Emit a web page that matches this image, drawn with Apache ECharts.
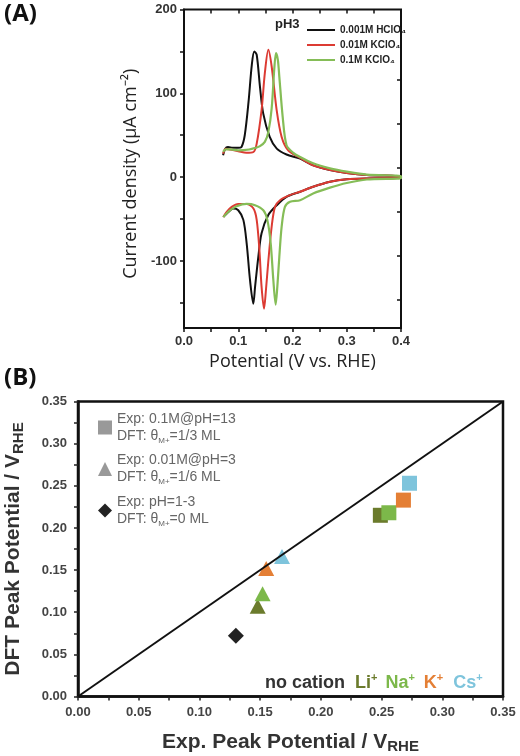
<!DOCTYPE html>
<html>
<head>
<meta charset="utf-8">
<script src="https://cdn.jsdelivr.net/npm/echarts@6/dist/echarts.min.js"></script>
<style>
  html, body { margin: 0; padding: 0; background: #fff; }
  #chart { width: 520px; height: 756px; }
</style>
</head>
<body>
<div id="chart"></div>
<script>
// ---- panel A : CV curves, [potential V, current uA/cm2] ----
const hclo4Up = [[0.072,26],[0.076,34],[0.081,36],[0.09,35],[0.1,35],[0.106,36],[0.112,50],[0.119,90],[0.125,134],[0.1296,150],[0.134,146],[0.14,108],[0.146,76],[0.158,48],[0.171,34],[0.189,27],[0.214,22],[0.238,14],[0.269,8.5],[0.3,5],[0.337,2.5],[0.4,1]];
const hclo4Down = [[0.4,-1],[0.337,-1.5],[0.3,-2.5],[0.269,-5.5],[0.238,-11.5],[0.214,-17.5],[0.189,-23.5],[0.171,-33.5],[0.1556,-45],[0.143,-67],[0.137,-95],[0.131,-131],[0.1278,-151],[0.1217,-123],[0.1155,-79],[0.1094,-51],[0.1,-39.5],[0.091,-37.5],[0.0817,-41.5],[0.0725,-47.5]];
const kclo4_001Up = [[0.072,28],[0.077,34],[0.085,33],[0.1,31],[0.115,29],[0.128,30],[0.134,40],[0.143,80],[0.149,124],[0.1555,152],[0.1616,132],[0.1708,80],[0.18,48],[0.192,32],[0.214,23],[0.238,14],[0.269,8.5],[0.3,5],[0.337,2.5],[0.4,1]];
const kclo4_001Down = [[0.4,-1],[0.337,-1.5],[0.3,-2.5],[0.269,-5.5],[0.238,-11.5],[0.214,-17.5],[0.195,-21.5],[0.177,-27.5],[0.1677,-35.5],[0.1616,-59],[0.1556,-99],[0.151,-135],[0.1475,-157],[0.143,-131],[0.139,-87],[0.134,-51],[0.128,-37.5],[0.1155,-32],[0.1,-32],[0.0879,-35.5],[0.0787,-41.5],[0.0725,-47.5]];
const kclo4_01Up = [[0.072,30],[0.077,33],[0.085,33],[0.1,32],[0.12,33],[0.132,35],[0.14,37],[0.149,42],[0.1555,54],[0.1616,82],[0.1665,130],[0.1696,148],[0.173,140],[0.1757,120],[0.1819,72],[0.189,38],[0.2015,29],[0.214,24],[0.238,16.5],[0.269,10.5],[0.3,6.5],[0.337,3],[0.4,1.2]];
const kclo4_01Down = [[0.4,-1.2],[0.337,-2.8],[0.3,-7],[0.269,-12.5],[0.238,-19.5],[0.214,-27.5],[0.1954,-29.5],[0.186,-35.5],[0.18,-59],[0.1757,-95],[0.172,-131],[0.169,-152],[0.1647,-123],[0.1598,-79],[0.1536,-51],[0.1462,-39.5],[0.1309,-33.5],[0.1155,-32],[0.097,-34.7],[0.085,-39.5],[0.0725,-47.5]];

const cvNames = ['0.001M HClO\u2084', '0.01M KClO\u2084', '0.1M KClO\u2084'];
const cvColors = ['#111111', '#dc3b33', '#85bd57'];

const yTicksA = [-150, -100, -50, 0, 50, 100, 150, 200];
const yLabelsA = [-100, 0, 100, 200];
const yTicksRightA = [-150, -100, -50, 0, 50, 100];

// ---- panel B : DFT vs experiment peak potential ----
const cationColors = ['#6b7b2c', '#7cb84a', '#e47f35', '#7ec4dc'];
const expSquare = [0.249, 0.256, 0.268, 0.273];
const dftSquare = [0.215, 0.218, 0.233, 0.253];
const expTriangle = [0.148, 0.152, 0.155, 0.168];
const dftTriangle = [0.107, 0.122, 0.152, 0.166];
const expDiamond = [0.130];
const dftDiamond = [0.072];
const parityLine = [[0, 0], [0.35, 0.35]];

const legendText = {
    sq: '{t|Exp: 0.1M@pH=13}\n{t|DFT: \u03b8}{s|M+}{t|=1/3 ML}',
    tri: '{t|Exp: 0.01M@pH=3}\n{t|DFT: \u03b8}{s|M+}{t|=1/6 ML}',
    dia: '{t|Exp: pH=1-3}\n{t|DFT: \u03b8}{s|M+}{t|=0 ML}'
};

const pts = (xs, ys, colors) => xs.map((x, i) => ({
    value: [x, ys[i]],
    itemStyle: colors ? { color: colors[i] } : undefined
}));

const sans = 'Liberation Sans';
const big = (c, pad) => ({ font: 'bold 18px "Liberation Sans"', fill: c, lineHeight: 22, padding: [0, 0, 0, pad] });
const sup = c => ({ font: 'bold 11px "Liberation Sans"', fill: c, lineHeight: 12, verticalAlign: 'top' });
const nameRich = {
    m: { fontFamily: sans, fontWeight: 'bold', fontSize: 21, color: '#333', lineHeight: 25 },
    s: { fontFamily: sans, fontWeight: 'bold', fontSize: 15, color: '#333', lineHeight: 15, verticalAlign: 'bottom' }
};

const chart = echarts.init(document.getElementById('chart'), null, { renderer: 'canvas' });

const option = {
    animation: false,
    backgroundColor: '#fff',
    grid: [
        { left: 184, top: 9.5, width: 217, height: 318.5, outerBoundsMode: 'none', show: true, borderColor: '#111', borderWidth: 2, backgroundColor: 'transparent' },
        { left: 78, top: 401.5, width: 425, height: 295, outerBoundsMode: 'none', show: true, borderColor: '#111', borderWidth: 2.5, backgroundColor: 'transparent' }
    ],
    xAxis: [
        {
            gridIndex: 0, type: 'value', min: 0, max: 0.4, interval: 0.1,
            axisLine: { onZero: false, lineStyle: { color: '#111', width: 2 } },
            axisTick: { length: 4, lineStyle: { color: '#111', width: 1.5 } },
            minorTick: { show: true, splitNumber: 2, length: 4, lineStyle: { color: '#111', width: 1.5 } },
            splitLine: { show: false },
            axisLabel: { margin: 7, fontFamily: sans, fontWeight: 'bold', fontSize: 13, color: '#333', formatter: v => v.toFixed(1) },
            name: 'Potential (V vs. RHE)', nameLocation: 'middle', nameGap: 25,
            nameTextStyle: { fontFamily: 'Open Sans', fontSize: 18, color: '#222' }
        },
        {
            gridIndex: 0, type: 'value', position: 'top', min: 0, max: 0.4, interval: 0.05,
            axisLine: { show: false, onZero: false },
            axisTick: { inside: true, length: 4, lineStyle: { color: '#111', width: 1.5 } },
            axisLabel: { show: false }, splitLine: { show: false }
        },
        {
            gridIndex: 1, type: 'value', min: 0, max: 0.35, interval: 0.05,
            axisLine: { onZero: false, lineStyle: { color: '#111', width: 2.5 } },
            axisTick: { length: 4, lineStyle: { color: '#222', width: 1.5 } },
            minorTick: { show: true, splitNumber: 2, length: 4, lineStyle: { color: '#222', width: 1.5 } },
            splitLine: { show: false },
            axisLabel: { margin: 9, fontFamily: sans, fontWeight: 'bold', fontSize: 13, color: '#444', formatter: v => v.toFixed(2) },
            name: '{m|Exp. Peak Potential / V}{s|RHE}', nameLocation: 'middle', nameGap: 33,
            nameTextStyle: { rich: nameRich }
        }
    ],
    yAxis: [
        {
            gridIndex: 0, type: 'value', min: -180, max: 200,
            axisLine: { onZero: false, lineStyle: { color: '#111', width: 2 } },
            axisTick: { length: 4, customValues: yTicksA, lineStyle: { color: '#111', width: 1.5 } },
            splitLine: { show: false },
            axisLabel: { margin: 7, customValues: yLabelsA, fontFamily: sans, fontWeight: 'bold', fontSize: 13, color: '#333' },
            name: 'Current density (\u03bcA cm\u207b\u00b2)', nameLocation: 'middle', nameGap: 44,
            nameTextStyle: { fontFamily: 'Open Sans', fontSize: 18, color: '#222', padding: [0, 10, 0, 0] }
        },
        {
            gridIndex: 0, type: 'value', position: 'right', min: -182, max: 180,
            axisLine: { show: false, onZero: false },
            axisTick: { inside: true, length: 4, customValues: yTicksRightA, lineStyle: { color: '#111', width: 1.5 } },
            axisLabel: { show: false }, splitLine: { show: false }
        },
        {
            gridIndex: 1, type: 'value', min: 0, max: 0.35, interval: 0.05,
            axisLine: { onZero: false, lineStyle: { color: '#111', width: 2.5 } },
            axisTick: { length: 4, lineStyle: { color: '#222', width: 1.5 } },
            minorTick: { show: true, splitNumber: 2, length: 4, lineStyle: { color: '#222', width: 1.5 } },
            splitLine: { show: false },
            axisLabel: { margin: 11, fontFamily: sans, fontWeight: 'bold', fontSize: 13, color: '#444', formatter: v => v.toFixed(2) },
            name: '{m|DFT Peak Potential / V}{s|RHE}', nameLocation: 'middle', nameGap: 52,
            nameTextStyle: { rich: nameRich }
        }
    ],
    legend: [
        {
            data: cvNames, orient: 'vertical', left: 302, top: 19,
            icon: 'rect', itemWidth: 28, itemHeight: 2, itemGap: 3,
            textStyle: { fontFamily: sans, fontWeight: 'bold', fontSize: 10, color: '#222', lineHeight: 12 }
        },
        {
            data: ['sq', 'tri', 'dia'], orient: 'vertical', left: 93, top: 407,
            itemWidth: 14, itemHeight: 14, itemGap: 9,
            formatter: n => legendText[n],
            textStyle: {
                rich: {
                    t: { fontFamily: sans, fontSize: 14, color: '#666', lineHeight: 17 },
                    s: { fontFamily: sans, fontSize: 8, color: '#666', lineHeight: 9, verticalAlign: 'bottom' }
                }
            }
        }
    ],
    graphic: [
        { type: 'text', left: 4, top: 2, style: { text: '(A)', font: 'bold 24px "Open Sans"', fill: '#111' } },
        { type: 'text', left: 4, top: 366, style: { text: '(B)', font: 'bold 24px "Open Sans"', fill: '#111' } },
        { type: 'text', left: 275, top: 18, style: { text: 'pH3', font: 'bold 13px "Liberation Sans"', fill: '#222' } },
        {
            type: 'text', left: 265, top: 672,
            style: {
                text: '{n|no cation}{li|Li}{lis|+}{na|Na}{nas|+}{k|K}{ks|+}{cs|Cs}{css|+}',
                rich: {
                    n: big('#333', 0),
                    li: big(cationColors[0], 10), lis: sup(cationColors[0]),
                    na: big(cationColors[1], 8), nas: sup(cationColors[1]),
                    k: big(cationColors[2], 9), ks: sup(cationColors[2]),
                    cs: big(cationColors[3], 10), css: sup(cationColors[3])
                }
            }
        }
    ],
    series: [
        {
            name: cvNames[0], type: 'line', xAxisIndex: 0, yAxisIndex: 0, symbol: 'none', smooth: 0.3,
            lineStyle: { color: cvColors[0], width: 2 }, itemStyle: { color: cvColors[0] },
            data: hclo4Up.concat(hclo4Down)
        },
        {
            name: cvNames[1], type: 'line', xAxisIndex: 0, yAxisIndex: 0, symbol: 'none', smooth: 0.3,
            lineStyle: { color: cvColors[1], width: 2 }, itemStyle: { color: cvColors[1] },
            data: kclo4_001Up.concat(kclo4_001Down)
        },
        {
            name: cvNames[2], type: 'line', xAxisIndex: 0, yAxisIndex: 0, symbol: 'none', smooth: 0.3,
            lineStyle: { color: cvColors[2], width: 2.2 }, itemStyle: { color: cvColors[2] },
            data: kclo4_01Up.concat(kclo4_01Down)
        },
        {
            type: 'line', xAxisIndex: 2, yAxisIndex: 2, symbol: 'none', silent: true,
            lineStyle: { color: '#111', width: 2 }, data: parityLine
        },
        {
            name: 'sq', type: 'scatter', xAxisIndex: 2, yAxisIndex: 2, symbol: 'rect', symbolSize: 15,
            itemStyle: { color: '#999', opacity: 1 }, data: pts(expSquare, dftSquare, cationColors)
        },
        {
            name: 'tri', type: 'scatter', xAxisIndex: 2, yAxisIndex: 2, symbol: 'triangle', symbolSize: [16, 15],
            itemStyle: { color: '#999', opacity: 1 }, data: pts(expTriangle, dftTriangle, cationColors)
        },
        {
            name: 'dia', type: 'scatter', xAxisIndex: 2, yAxisIndex: 2, symbol: 'diamond', symbolSize: 16,
            itemStyle: { color: '#222', opacity: 1 }, data: pts(expDiamond, dftDiamond, null)
        }
    ]
};

chart.setOption(option);
</script>
</body>
</html>
